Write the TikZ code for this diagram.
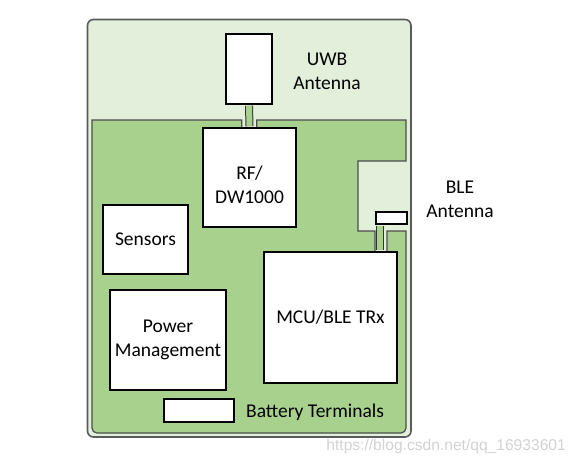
\documentclass[tikz,border=0pt]{standalone}
\usepackage{fontspec}
\setmainfont{Carlito}
\newfontfamily\wmfont{Liberation Sans}
\definecolor{boardlight}{HTML}{E2EFDA}
\definecolor{boardgreen}{HTML}{A9D18E}
\definecolor{edgegray}{HTML}{5A5A5A}
\definecolor{wmgray}{HTML}{D2D2D2}
\begin{document}
\begin{tikzpicture}[x=1pt,y=-1pt,
  box/.style={draw=black, line width=1.8pt, fill=white, inner sep=0pt, align=center,
    font=\fontsize{19.5}{24}\selectfont},
  lbl/.style={align=center, inner sep=0pt, font=\fontsize{19.5}{24}\selectfont},
  trace/.style={draw=black!80, line width=8pt, shorten <=0.9pt, shorten >=0.9pt},
  tracefill/.style={draw=boardgreen, line width=6pt, shorten <=0.9pt, shorten >=0.9pt}]
\useasboundingbox (0,0) rectangle (574,464);
% board
\draw[edgegray, line width=1.6pt, fill=boardlight, rounded corners=6pt] (87.5,19.5) rectangle (411,437);
% green region
\draw[black!70, line width=1.2pt, fill=boardgreen]
  (92,120) -- (241.7,120) -- (241.7,128) -- (256.7,128) -- (256.7,120) -- (406,120)
  -- (406,161) -- (358,161) -- (358,231) -- (375,231) -- (375,252) -- (387,252)
  -- (387,231) -- (406,231) [rounded corners=5pt] -- (406,433) -- (92,433) [sharp corners] -- cycle;
% nodes
\node[box, minimum width=46pt, minimum height=70pt] (uwb) at (249,69) {};
\node[box, minimum width=93pt, minimum height=99pt, text depth=0pt] (rf) at (249.5,177.5) {\raisebox{-1.5pt}{\parbox{80pt}{\centering RF/\\DW1000}}};
\node[box, minimum width=85pt, minimum height=69pt] (sens) at (145.5,239.5) {\raisebox{-1.5pt}{Sensors}};
\node[box, minimum width=116pt, minimum height=100pt] (pm) at (168,340) {\raisebox{-1.5pt}{\parbox{110pt}{\centering Power\\Management}}};
\node[box, minimum width=133pt, minimum height=131pt] (mcu) at (330.5,317.5) {\raisebox{-1.5pt}{MCU/BLE TRx}};
\node[box, minimum width=31pt, minimum height=12pt] (ble) at (391.5,218) {};
\node[box, minimum width=70pt, minimum height=23pt] (bat) at (199,410.5) {};
% traces
\draw[trace] (uwb.south) -- (rf.north);
\draw[tracefill] (uwb.south) -- (rf.north);
\draw[trace] (ble.south -| 380.3,0) -- (mcu.north -| 380.3,0);
\draw[tracefill] (ble.south -| 380.3,0) -- (mcu.north -| 380.3,0);
% labels
\node[lbl] (uwblbl) at (327,71.5) {UWB\\Antenna};
\node[lbl] (blelbl) at (460,199.5) {BLE\\Antenna};
\node[lbl, anchor=west] (batlbl) at (246,412) {Battery Terminals};
\node[anchor=east, inner sep=0pt, text=wmgray, font=\wmfont\fontsize{15.6}{17}\selectfont] (wm) at (566,446) {https://blog.csdn.net/qq\_16933601};
\end{tikzpicture}
\end{document}
